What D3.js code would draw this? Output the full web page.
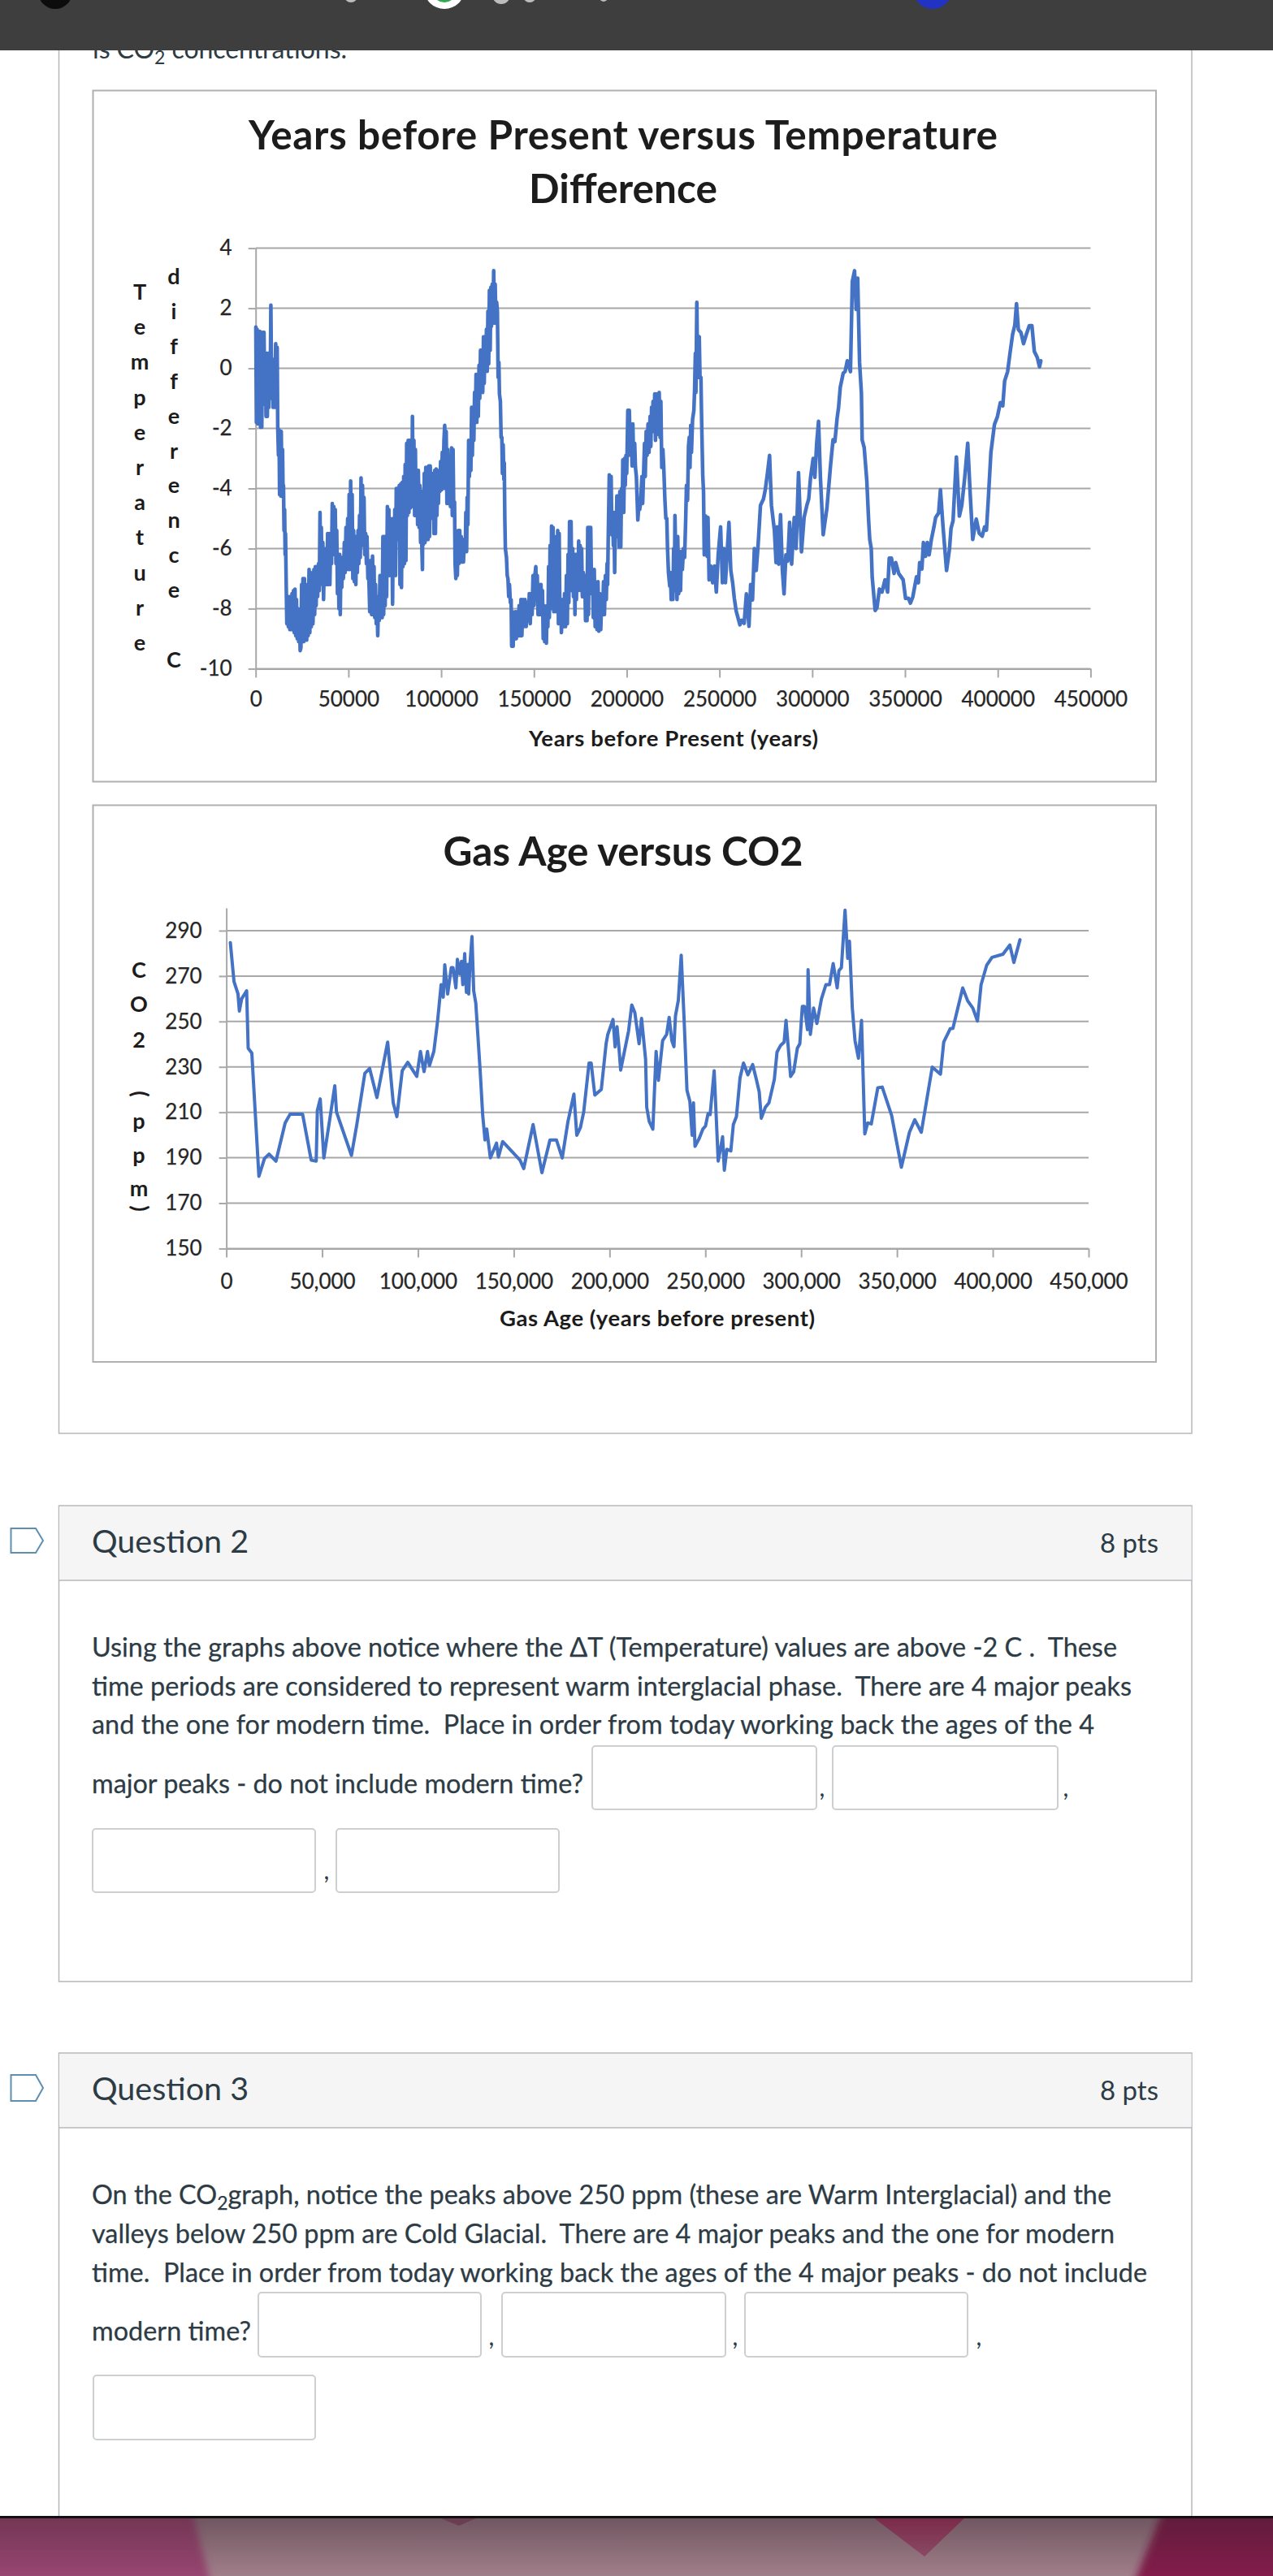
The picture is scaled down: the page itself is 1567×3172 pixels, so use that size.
<!DOCTYPE html>
<html>
<head>
<meta charset="utf-8">
<script src="https://cdn.jsdelivr.net/npm/d3@7"></script>
<style>
html,body{margin:0;padding:0;background:#fff;overflow:hidden}
svg{display:block}
text{font-family:Lato,"Open Sans",sans-serif}
</style>
</head>
<body>
<div id="page"></div>
<script>
// ---------- Chart 1 data: [age in thousand years, temperature difference C] ----------
const tempSegmentA = [[0.1,1.37],[0.4,-1.8],[0.8,1.3],[1.1,-1.85],[1.5,1.2],[1.9,-1.2],[2.2,1.23],[2.6,-1.96],[3.0,1.2],[3.3,-1.96],[3.7,1.2],[4.1,-1.2],[4.5,1.2],[4.9,-1.0],[5.2,0.5],[5.6,-1.6],[6.0,0.5],[6.3,-1.6],[6.7,0.5],[7.1,-1.3],[7.5,0.3],[7.8,-1.0],[8.2,2.1],[8.6,-0.8],[9.0,0.2],[9.4,-1.3],[9.9,0.3],[10.3,-1.3],[10.8,0.82],[11.2,-1.3],[11.6,0.7],[11.9,-1.96],[12.3,-2.9],[12.6,-2.05],[12.9,-4.2],[13.2,-2.1],[13.5,-4.25],[13.8,-2.1],[14.2,-4.25],[14.5,-2.7],[14.8,-4.3],[15.0,-3.9],[15.3,-5.4],[15.6,-4.7],[15.9,-6.2],[16.1,-5.5],[16.4,-6.9],[16.8,-8.5],[17.2,-7.7],[17.6,-8.6],[18,-7.6],[18.4,-8.7],[18.8,-7.6],[19.2,-8.7],[19.6,-7.5],[20,-8.7],[20.4,-7.4],[20.8,-8.8],[21.2,-7.35],[21.6,-8.9],[22,-7.7],[22.4,-9],[22.8,-8],[23.2,-9.1],[23.6,-8.2],[24,-9.4],[24.4,-9.3],[24.8,-7.2],[25.1,-9],[25.5,-7],[25.9,-9.1],[26.3,-7],[26.7,-9.05],[27.1,-7.2],[27.5,-9.05],[27.9,-7.5],[28.3,-8.9],[28.8,-6.7],[29.2,-8.8],[29.6,-6.8],[30,-8.6],[30.5,-7.5],[30.9,-8.5],[31.4,-6.7],[31.8,-8.2],[32.2,-6.6],[32.6,-7.9],[33,-6.6],[33.4,-7.6],[33.9,-6.5],[34.3,-7.4],[34.7,-4.8],[35,-7.2],[35.4,-5.3],[35.8,-7],[36.2,-5.8],[36.6,-7.7],[37,-6.2],[37.4,-7.2],[37.9,-6],[38.3,-7.2],[38.8,-5.5],[39.2,-7.2],[39.6,-5.5],[40,-7.2],[40.5,-5.5],[40.9,-6.5],[41.3,-4.5],[41.7,-6.2],[42.1,-4.6],[42.5,-6.1],[42.9,-4.7],[43.3,-6.5],[43.7,-5.4],[44.1,-7.5],[44.5,-6.2],[44.9,-8],[45.3,-6.2],[45.6,-8.2],[46,-6.3],[46.4,-7.3],[46.9,-6.3],[47.3,-7],[47.8,-5.8],[48.2,-6.8],[48.7,-5.3],[49.1,-6.6],[49.6,-5],[50,-6.7],[50.4,-4.2],[50.8,-6.7],[51.2,-3.75],[51.6,-6.7],[52,-4.2],[52.4,-7],[52.8,-5.4],[53.2,-7.1],[53.6,-5.6],[54,-7.2],[54.4,-5.6],[54.8,-6.8],[55.2,-5.4],[55.6,-6.5],[56,-4.9],[56.4,-6.3],[56.8,-3.65],[57.2,-5.9],[57.6,-3.9],[58,-5.7],[58.4,-4.3],[58.8,-6.2],[59.3,-5.5],[59.7,-6.5],[60,-5.6],[60.5,-7],[61,-6.9],[61.5,-8.1],[62,-6.4],[62.5,-8.2]];
const tempSegmentB = [[63,-6.25],[63.4,-8],[63.8,-6.6],[64.2,-8.3],[64.6,-7.2],[65,-8.5],[65.4,-7.6],[65.8,-8.9],[66.2,-7.8],[66.6,-8.4],[67,-6.9],[67.4,-8.3],[67.8,-6.9],[68.2,-8.3],[68.6,-5.6],[69,-8.2],[69.4,-5.6],[69.8,-7.9],[70.2,-5.6],[70.6,-7.6],[71,-4.6],[71.4,-6.9],[71.8,-4.7],[72.2,-6.9],[72.6,-5],[73,-6.9],[73.4,-5.3],[73.8,-7.85],[74.2,-5],[74.6,-6.9],[75,-4.7],[75.4,-6.9],[75.8,-4],[76.2,-5.7],[76.6,-4],[77,-5.7],[77.4,-3.9],[77.8,-7.2],[78.2,-3.85],[78.6,-7.3],[79,-3.8],[79.4,-6.6],[79.8,-3.6],[80.2,-6.5],[80.6,-3.2],[81,-6.4],[81.4,-2.5],[81.8,-4.9],[82.2,-2.4],[82.6,-4.8],[83,-2.4],[83.4,-4.65],[83.8,-2.6],[84.2,-4.6],[84.5,-1.6],[84.9,-4.2],[85.3,-2.4],[85.7,-4.9],[86.1,-2.7],[86.5,-4.9],[86.9,-3.4],[87.3,-5.2],[87.7,-3.4],[88.1,-5.3],[88.5,-3.9],[88.9,-5.8],[89.3,-4.1],[89.6,-6],[89.9,-6.7],[90.1,-4.1],[90.5,-5.85],[90.9,-3.5],[91.3,-5.8],[91.7,-3.3],[92.1,-5.6],[92.5,-3.3],[92.9,-5.7],[93.3,-3.25],[93.7,-5.6],[94.1,-3.25],[94.5,-5],[94.9,-3.5],[95.3,-5],[95.7,-3.5],[96.1,-5.5],[96.5,-3.4],[96.9,-5.5],[97.3,-3.35],[97.7,-4.9],[98.1,-3.6],[98.5,-4.5],[98.9,-3.4],[99.3,-4.1],[99.7,-3.1],[100.1,-4.05],[100.6,-2.8],[101,-4],[101.5,-2.4],[101.9,-1.9],[102.3,-4],[102.7,-2.1],[103.1,-4.5],[103.5,-2.7],[104,-4.5],[104.5,-3.6],[105,-4.6],[105.6,-2.65],[106,-4.9],[106.4,-2.7],[106.8,-4.9],[107.2,-4.45],[107.5,-6.5],[107.9,-7],[108.3,-6.2],[108.7,-6.9],[109.2,-5.4],[109.6,-6.5],[110,-5.4],[110.4,-6.4],[110.8,-5.6],[111.2,-6.45],[111.6,-5.7],[112,-6.45],[112.5,-5.7],[113,-6.1],[113.3,-4.8],[113.7,-6.1],[114,-4.3],[114.4,-5.2],[114.8,-2.4],[115.2,-3.6],[115.6,-2.5],[116,-3.4],[116.4,-1.3],[116.8,-2.9],[117.2,-1.4],[117.6,-2.4],[118,-0.8],[118.4,-1.8],[118.8,-0.2],[119.2,-1.8],[119.6,-0.2],[120,-1.6],[120.4,0.1],[120.8,-1],[121.2,0.6],[121.6,-0.8],[122,0.6],[122.4,-0.8],[122.8,1.05],[123.2,-0.5],[123.6,1.05],[124,-0.1],[124.4,1.3]];
const tempSegmentC = [[124.8,-0.1],[125.2,1.9],[125.6,0.15],[126,2.6],[126.4,0.6],[126.8,2.7],[127.1,1.4],[127.5,2.8],[127.9,1.5],[128.3,3.25],[128.7,1.5],[129.1,2.8],[129.5,1.5],[129.9,2.2],[130.3,1.9],[130.7,-0.3],[131.1,0.2],[131.4,-0.85],[131.9,-1.1],[132.3,-2.3],[132.7,-2.3],[133,-3.5],[133.4,-2.55],[133.8,-3.7],[134,-3.15],[134.3,-5],[134.6,-6],[135.2,-6.3],[135.6,-6.9],[136,-7],[136.4,-7.6],[136.8,-7.2],[137.3,-7.8],[137.7,-7.7],[138,-9.25],[138.4,-8.1],[138.8,-9.25],[139.2,-8.2],[139.6,-9],[140,-8.1],[140.5,-9],[141,-8.1],[141.5,-8.9],[142,-7.9],[142.5,-8.9],[143,-7.7],[143.5,-8.9],[144,-7.7],[144.6,-8.6],[145.2,-7.7],[145.8,-8.6],[146.4,-7.8],[147,-8.4],[147.5,-7.5],[148,-8.5],[148.5,-7.5],[149,-8.2],[149.5,-6.9],[150,-7.9],[150.5,-6.9],[151,-6.6],[151.4,-7.7],[151.8,-6.9],[152.2,-8.2],[152.7,-7.2],[153.2,-8.2],[153.8,-7.2],[154.2,-8.2],[154.6,-7.4],[155,-9],[155.4,-7.9],[155.8,-9.1],[156.3,-8],[156.7,-9.15],[157.1,-7.9],[157.5,-8.6],[157.9,-6.6],[158.3,-8.3],[158.7,-5.9],[159.1,-8],[159.5,-5.25],[159.9,-8],[160.3,-5.3],[160.7,-8.1],[161.1,-7.6],[161.5,-8.1],[162,-5.6],[162.4,-8.1],[162.8,-5.4],[163.2,-8.5],[163.6,-5.5],[164,-8.4],[164.4,-7.8],[164.8,-8.8],[165.4,-7.7],[166,-8.6],[166.5,-7.5],[167,-8.6],[167.5,-6.9],[168,-8.5],[168.4,-6.2],[168.8,-7.8],[169.2,-5.1],[169.6,-7.25],[170,-5.1],[170.4,-7.4],[170.9,-6],[171.3,-7.6],[171.7,-6.2],[172.1,-8.2],[172.5,-6.2],[172.9,-7.7],[173.3,-6.2],[173.7,-7.4],[174.1,-5.75],[174.5,-7.3],[174.9,-5.9],[175.3,-7.4],[175.7,-6],[176.1,-7.6],[176.6,-6.8],[177,-7.6],[177.4,-6.9],[177.8,-8.4],[178.2,-7.2],[178.6,-8.4],[179,-5.3],[179.4,-8.2],[179.8,-5.3],[180.2,-7.5],[180.6,-5.3],[181,-7.2],[181.5,-6.7],[182,-8.3],[182.5,-6.7],[183,-8.6],[183.5,-7.3],[184,-8.7],[184.5,-7.1],[185,-8.75]];
const tempSegmentD = [[185.5,-7.5],[186,-8.7],[186.5,-7.7],[187,-8.2],[187.5,-7.1],[188,-8.2],[188.5,-6.9],[189,-7.7],[189.4,-6.5],[189.7,-7.2],[190,-5.8],[190.6,-3.55],[191,-5.5],[191.6,-3.6],[192,-5.55],[192.4,-4.8],[192.8,-5.9],[193.1,-4.8],[193.5,-6.8],[193.9,-4.9],[194.3,-5.6],[194.7,-4.25],[195.1,-5.6],[195.5,-4.25],[195.9,-5.95],[196.3,-4.1],[196.8,-5.95],[197.2,-4],[197.6,-4.8],[197.9,-3.05],[198.4,-4.8],[198.8,-3],[199.2,-3.9],[199.6,-2.9],[200,-3.5],[200.6,-1.4],[201,-2.9],[201.4,-1.4],[201.9,-2.7],[202.4,-2],[202.9,-3.25],[203.3,-1.85],[203.8,-3.25],[204.3,-2.5],[204.7,-3.3],[205.2,-3.6],[206,-5.05],[206.6,-4.5],[207,-4.7],[207.4,-4.5],[208.2,-3.6],[208.6,-4.5],[209.2,-3.3],[209.6,-2.5],[210,-3.6],[210.5,-2.1],[211,-2.9],[211.5,-1.85],[212,-2.8],[212.6,-1.6],[213,-2.6],[213.4,-1.3],[213.8,-2.1],[214.2,-1.1],[214.7,-2.1],[215.1,-0.85],[215.5,-2.4],[215.9,-0.85],[216.3,-2.2],[216.7,-0.9],[217.2,-2],[217.5,-0.8],[218,-2.3],[218.4,-1.1],[218.9,-3.3],[219.5,-2.7],[220,-3.35],[220.6,-4.4],[221.1,-5],[221.6,-5],[222,-6],[222.5,-6.8],[223.2,-7.25],[223.5,-6.8],[224,-7.7],[224.4,-7],[224.9,-7.7],[225.3,-6],[225.7,-7.4],[226,-4.9],[226.5,-6.5],[226.9,-7],[227.1,-7.7],[227.5,-5.6],[228,-7.5],[228.6,-6.1],[229,-7.4],[229.5,-6.1],[230,-6.7],[230.6,-6],[231.2,-6.3],[231.8,-5],[232.2,-3.9],[232.8,-4.4],[233.3,-2.6],[233.7,-2.3],[234.1,-3.3],[234.5,-1.9],[234.9,-2.8],[235.5,-1.7],[236.2,-1.4],[236.6,-0.7],[237,0.5],[237.3,-0.8],[237.8,2.2],[238.2,-0.3],[238.7,1],[239.1,1.05],[239.5,-0.3],[240,-0.3],[240.4,-1.8],[241,-3.6],[241.4,-4.1],[241.8,-6.21]];
const tempSegmentE = [[242.6,-4.92],[243.4,-6.26],[243.8,-4.97],[244.4,-7.04],[245.3,-6.58],[246.3,-7.14],[247.3,-6.58],[248.3,-7.45],[249.3,-6.21],[250.6,-5.28],[251.6,-7.14],[252.4,-6],[253.2,-7.14],[255.1,-5.13],[256.1,-6.73],[257.1,-7.14],[258,-7.66],[259,-8.08],[261,-8.54],[262,-8.39],[263.3,-8.49],[264.5,-7.51],[265.9,-8.59],[266.8,-7.2],[267.8,-7.71],[268.8,-6],[269.8,-6.73],[270.8,-5.9],[271.3,-5.39],[272.1,-4.56],[273.7,-4.35],[274.7,-4.04],[276,-3.42],[277,-2.9],[278,-4.56],[279.6,-5.39],[280.5,-6.47],[281.1,-5.28],[281.9,-6.52],[282.9,-4.87],[283.9,-6.73],[284.8,-7.51],[285.8,-6.21],[286.8,-6.42],[287.8,-5.13],[288.9,-6.52],[290.3,-4.97],[291.3,-6],[292.6,-3.47],[294.2,-6.11],[295.6,-4.97],[297.1,-4.56],[298.1,-4.35],[299.1,-3.63],[300.5,-3],[301.4,-3.63],[302.4,-2.49],[303.4,-1.76],[304.4,-3.63],[305.9,-5.54],[307.9,-4.66],[309.9,-3.21],[311.2,-2.38],[312.2,-2.44],[313.4,-1.66],[314.2,-1.3],[315.1,-0.63],[316.7,-0.16],[317.7,-0.11],[318.9,0.25],[320.6,-0.11],[321.6,2.89],[322.8,3.25],[323.7,1.96],[324.5,3],[325.5,0.2],[326.5,-0.83],[326.9,-2.38],[328,-2.64],[329.4,-3.73],[330.4,-5.07],[331,-5.7],[331.8,-6],[332.3,-6.94],[333.9,-8.06],[334.9,-7.97],[336.2,-7.35],[337.6,-7.45],[339.2,-7.04],[340.6,-7.45],[341.5,-6.32],[342.7,-6.32],[344.1,-6.83],[345,-6.47],[346.6,-6.83],[349,-7.04],[350.3,-7.66],[351.9,-7.66],[352.9,-7.82],[354.2,-7.61],[356.2,-6.94],[357.2,-7.14],[357.9,-6.47],[359.1,-6.68],[359.9,-5.8],[361.1,-6.26],[362,-5.8],[363,-6.21],[364.2,-5.7],[365.6,-5.28],[366.5,-4.97],[368.1,-4.82],[369.1,-4.04],[370.5,-5.28],[372.4,-6.73],[374,-6],[374.8,-5.33],[375.9,-5.07],[377.7,-2.95],[379.3,-4.92],[380.6,-4.56],[382.2,-3.63],[383.8,-2.49],[385.1,-4.14],[386.5,-5.7],[388.4,-5.02],[390,-5.49],[391.6,-5.59],[392.9,-5.28],[393.9,-5.39],[394.9,-4.35],[396.3,-2.8],[398.2,-1.87],[399.8,-1.61],[401.4,-1.14],[402.7,-1.25],[403.7,-0.42],[405.3,-0.11],[406.6,0.51],[408,1.13],[409.2,1.44],[410.1,2.15],[411.1,1.29],[412.5,1.19],[413.9,0.82],[415.4,1.13],[417,1.42],[418.4,1.42],[419.7,0.56],[421.3,0.36],[422.5,0.05],[423.2,0.25]];

// ---------- Chart 2 data: [gas age in thousand years, CO2 ppm] ----------
const co2SegmentA = [[2.1,284.7],[4,267.6],[6.1,262.1],[6.8,254.6],[8,260],[10.6,263.5],[11.4,238.2],[13.3,236.1],[17,181.8],[19.9,189.6],[22.3,191.6],[25.9,188.5],[30.7,205.3],[33.3,209.2],[39.8,209.2],[44.3,188.9],[46.9,188.5],[47.5,210.8],[49,215.9],[50.9,189.9],[54.3,208.7],[56.6,221.7],[57.5,210.1],[65.3,191],[68.1,204.6],[72.3,227.2],[74.8,229.3],[78.6,216.5],[84.2,240.9],[87.1,214.2],[89,208.1],[91.8,228.3],[94.7,232],[99.4,225.8],[101.3,236.8],[103.2,227.9],[105,236.8],[106,230.6],[108.3,236.8],[110.2,249.8],[112.1,266.2],[113.2,260.7],[114,275],[115.5,262.1],[117.4,273.7],[118.3,273.7],[119.8,264.8],[120.6,277.4],[121.7,271],[122.7,276.5],[123.4,266.2],[124.4,279.9],[125.3,262.8],[126.1,275.1],[126.5,262.1],[127.2,275.8],[128.2,287.4],[129.1,263.5],[130.2,258],[132.5,227.9],[133.8,208.7],[135,197.8],[135.9,202.6],[137.8,189.9]];
const co2SegmentB = [[141,196.4],[142,190.3],[144.2,197.1],[153.3,188.9],[155.2,185.2],[160.1,204.6],[164.7,183.4],[168.9,197.8],[172.3,197.8],[175.3,189.9],[178.3,206],[181.4,218],[182.9,199.9],[184.8,203.3],[186.5,210.1],[189.3,231.7],[190.4,231.7],[192.3,217.6],[195.7,220.1],[198.2,240.2],[199.1,244.3],[201.8,250.9],[202.9,238.8],[203.9,247.7],[204.8,239.5],[205.8,228.6],[209.9,245.7],[211.6,257.3],[213.2,253.9],[215.4,240.2],[216.7,251.4],[218.8,233.4],[219.4,212.2],[220.7,206],[222.6,202.6],[224.3,236.8],[225.5,224.1],[227.7,241.6],[229.8,244.3],[231.1,251.8],[232.5,241.6],[233.6,238.9],[234.4,252.5],[235.9,259.4],[237.4,279.2],[238.9,251.1],[240.4,219.7],[241.9,214.9],[243.1,199.9],[243.8,214.2],[244.6,195],[246.8,198.5],[248.7,202.6],[250.1,204],[251.4,209.4],[252.5,209],[254.6,228.3],[256.7,188.5],[259,199.2],[259.9,184.5],[261.2,193.7],[263.3,193],[264.6,204.6],[266.2,208.1],[268.1,225.2],[269.9,231.7]];
const co2SegmentC = [[272.2,226.5],[274.7,231],[276.6,224.5],[278.1,219],[279.2,207.4],[281.3,212.2],[283.2,214.2],[286,224.5],[287.4,236.5],[289.3,239.5],[291.1,240.9],[292.1,250.5],[294.5,225.8],[296.1,227.9],[298,238.2],[299.3,240.2],[300.6,256.6],[301.7,256.6],[303.3,246.4],[303.6,272.8],[304.8,244.3],[306.5,255.9],[308.2,249.1],[310.6,260],[312.9,266.2],[314.8,266.2],[316.7,275.5],[318.8,264.8],[319.7,272.4],[321,273.7],[322.9,299],[324.3,277.8],[325.2,285.3],[326.7,255.9],[328.1,241.6],[329.9,233.8],[331.5,250.5],[333.2,200.5],[334.7,205.3],[336.6,204.9],[340,220.8],[342.3,221.1],[347.2,208.7],[352.3,185.8],[356.5,201.2],[359.3,206.7],[362.7,201.2],[368.4,229.9],[372.7,226.8],[374.4,240.9],[377.8,246.8],[379.2,247],[384.3,264.8],[386.9,259.1],[389.6,255.9],[392,250.2],[393.9,266.2],[396.8,274.7],[399.6,278.2],[405.3,279.6],[408.9,283.7],[411,276],[414.2,286]];

// ---------- Axis values and text ----------
const tempYTicks = [-10,-8,-6,-4,-2,0,2,4];
const co2YTicks = [150,170,190,210,230,250,270,290];
const xTicks = [0,50000,100000,150000,200000,250000,300000,350000,400000,450000];
const tempTitleLines = ["Years before Present versus Temperature","Difference"];
const co2Title = "Gas Age versus CO2";
const tempXTitle = "Years before Present (years)";
const co2XTitle = "Gas Age (years before present)";
const tempLabelColumnA = "Temperature".split("");
const tempLabelColumnB = "difference C".split("");
const co2LabelLetters = ["C","O","2",")","p","p","m","("];
const q2Lines = ["Using the graphs above notice where the ΔT (Temperature) values are above -2 C .  These","time periods are considered to represent warm interglacial phase.  There are 4 major peaks","and the one for modern time.  Place in order from today working back the ages of the 4","major peaks - do not include modern time?"];
const q3Lines = ["valleys below 250 ppm are Cold Glacial.  There are 4 major peaks and the one for modern","time.  Place in order from today working back the ages of the 4 major peaks - do not include","modern time?"];

const tempData = [].concat(tempSegmentA,tempSegmentB,tempSegmentC,tempSegmentD,tempSegmentE);
const co2Data = [].concat(co2SegmentA,co2SegmentB,co2SegmentC);

const W=1567,H=3172;
const INK="#2d3b45", AXIS="#a8a8a8", LINE="#4472c4", BORDER="#b5b9bc";
const svg=d3.select("#page").append("svg").attr("width",W).attr("height",H).attr("viewBox",`0 0 ${W} ${H}`);
const defs=svg.append("defs");

svg.append("rect").attr("x",0).attr("y",0).attr("width",W).attr("height",H).attr("fill","#fff");
svg.append("path").attr("d","M72.5 60V1765H1467V60").attr("fill","none").attr("stroke",BORDER).attr("stroke-width",1.5);

const intro=svg.append("text").attr("x",114).attr("y",72).attr("font-size",32).attr("fill",INK).attr("textLength",313);
intro.append("tspan").text("is CO");
intro.append("tspan").attr("dy",7).attr("font-size",23).text("2");
intro.append("tspan").attr("dy",-7).text(" concentrations.");

svg.append("rect").attr("x",0).attr("y",0).attr("width",W).attr("height",62).attr("fill","#3e3e3e");
svg.append("circle").attr("cx",68).attr("cy",-10).attr("r",21).attr("fill","#0c0c0c");
svg.append("circle").attr("cx",547).attr("cy",-14).attr("r",25).attr("fill","#fff");
svg.append("circle").attr("cx",547).attr("cy",-12).attr("r",15).attr("fill","#2fa84f");
svg.append("circle").attr("cx",1148).attr("cy",-13).attr("r",24).attr("fill","#2233c4");
svg.append("circle").attr("cx",617).attr("cy",-6).attr("r",11).attr("fill","#bdbdbd");
svg.append("circle").attr("cx",652).attr("cy",-5).attr("r",8).attr("fill","#bdbdbd");
svg.append("circle").attr("cx",432).attr("cy",-5).attr("r",8).attr("fill","#bdbdbd");
svg.append("circle").attr("cx",743).attr("cy",-3).attr("r",5).attr("fill","#bdbdbd");

function frame(y0,y1){
  svg.append("rect").attr("x",114.5).attr("y",y0).attr("width",1308.5).attr("height",y1-y0)
    .attr("fill","#fff").attr("stroke","#b0b0b0").attr("stroke-width",2);
}
frame(111.5,962.5);
frame(991.5,1677);

function drawChart(o){
  const x=d3.scaleLinear().domain([0,450000]).range(o.xr);
  const y=d3.scaleLinear().domain(o.yd).range(o.yr);
  const g=svg.append("g");
  g.selectAll("line.grid").data(o.yt).join("line").attr("class","grid")
    .attr("x1",o.xr[0]).attr("x2",o.xr[1]).attr("y1",d=>y(d)).attr("y2",d=>y(d))
    .attr("stroke",AXIS).attr("stroke-width",2);
  const xa=g.append("g").attr("transform",`translate(0,${o.yr[0]})`)
    .call(d3.axisBottom(x).tickValues(xTicks).tickSize(o.xTick).tickSizeOuter(0).tickPadding(o.xPad).tickFormat(o.xf));
  const ya=g.append("g").attr("transform",`translate(${o.xr[0]},0)`)
    .call(d3.axisLeft(y).tickValues(o.yt).tickSize(9).tickSizeOuter(0).tickPadding(o.yPad).tickFormat(d=>String(d)));
  [xa,ya].forEach(a=>{
    a.selectAll("path.domain,line").attr("stroke",AXIS).attr("stroke-width",2);
    a.selectAll("text").attr("font-size",26).attr("fill","#262626").attr("font-family","Lato").attr("stroke","#262626").attr("stroke-width",0.25);
  });
  const line=d3.line().x(d=>x(d[0]*1000)).y(d=>y(d[1]));
  g.append("path").datum(o.data).attr("d",line).attr("fill","none").attr("stroke",LINE)
    .attr("stroke-width",o.lw).attr("stroke-linejoin","round").attr("stroke-linecap","round");
}
drawChart({data:tempData,lw:4.5,xr:[314.7,1342.4],yd:[-10,4],yr:[823.4,305.6],yt:tempYTicks,xTick:11,xPad:17,yPad:20,xf:d=>String(d)});
drawChart({data:co2Data,lw:4,xr:[278.6,1340],yd:[150,300],yr:[1537.4,1118],yt:co2YTicks,xTick:11,xPad:20,yPad:21,xf:d3.format(",")});

function bold(t,cx,y,fs,len){
  const n=svg.append("text").attr("x",cx).attr("y",y).attr("text-anchor","middle")
    .attr("font-size",fs).attr("font-weight",700).attr("fill","#1c1c1c").text(t);
  if(len) n.attr("textLength",len).attr("lengthAdjust","spacing");
}
bold(tempTitleLines[0],767,184,49.5,922);
bold(tempTitleLines[1],767,250,49.5,232);
bold(co2Title,767,1066,49.5,443);
bold(tempXTitle,829,919,27.5,356);
bold(co2XTitle,809,1633,27.5,388);

function stacked(chars,cx,y0,step){
  chars.forEach((c,i)=>{ if(c===" ")return;
    svg.append("text").attr("x",cx).attr("y",y0+i*step).attr("text-anchor","middle")
      .attr("font-size",27).attr("font-weight",700).attr("fill","#1c1c1c").text(c);
  });
}
stacked(tempLabelColumnA,172,369,43.2);
stacked(tempLabelColumnB,214,350,42.9);
const co2LabelY=[1204,1246,1290,1347,1390,1432,1473,1488];
co2LabelLetters.forEach((c,i)=>{
  const n=svg.append("text").attr("text-anchor","middle").attr("font-size",27).attr("font-weight",700).attr("fill","#1c1c1c").text(c);
  if(c==="("||c===")") n.attr("transform",`translate(180,${co2LabelY[i]}) rotate(-90)`);
  else n.attr("x",171).attr("y",co2LabelY[i]);
});

function card(y0,y1,yh,name,ny){
  svg.append("rect").attr("x",72.5).attr("y",y0).attr("width",1394.5).attr("height",y1-y0).attr("fill","#fff").attr("stroke",BORDER).attr("stroke-width",1.5);
  svg.append("rect").attr("x",73).attr("y",y0+1).attr("width",1393.5).attr("height",yh-y0-1).attr("fill","#f5f5f5");
  svg.append("line").attr("x1",72.5).attr("x2",1467).attr("y1",yh).attr("y2",yh).attr("stroke",BORDER).attr("stroke-width",1.5);
  svg.append("text").attr("x",113).attr("y",ny).attr("font-size",39.5).attr("fill",INK).text(name);
  svg.append("text").attr("x",1426).attr("y",ny).attr("text-anchor","end").attr("font-size",33).attr("fill",INK).text("8 pts");
}
card(1854,2440,1946,"Question 2",1912);
card(2528,3110,2620,"Question 3",2586);
function flag(y0,y1){
  svg.append("path").attr("d",`M13.5 ${y0}H44L53 ${(y0+y1)/2}L44 ${y1}H13.5Z`).attr("fill","#fff").attr("stroke","#5f8fb0").attr("stroke-width",2);
}
flag(1882,1912); flag(2555,2587);

function body(t,y,len){
  const n=svg.append("text").attr("x",113).attr("y",y).attr("font-size",32.4).attr("fill",INK).attr("stroke",INK).attr("stroke-width",0.25).attr("xml:space","preserve").style("white-space","pre").text(t);
  if(len) n.attr("textLength",len).attr("lengthAdjust","spacing");
  return n;
}
body(q2Lines[0],2040,1262); body(q2Lines[1],2088,1280); body(q2Lines[2],2135,1234); body(q2Lines[3],2208,605);
const q3first=svg.append("text").attr("x",113).attr("y",2714).attr("font-size",32.4).attr("fill",INK).attr("stroke",INK).attr("stroke-width",0.25).attr("textLength",1255);
q3first.append("tspan").text("On the CO");
q3first.append("tspan").attr("dy",7).attr("font-size",23).text("2");
q3first.append("tspan").attr("dy",-7).text("graph, notice the peaks above 250 ppm (these are Warm Interglacial) and the");
body(q3Lines[0],2762,1259); body(q3Lines[1],2810,1299); body(q3Lines[2],2882,196);

function box(x0,x1,y0,y1){
  svg.append("rect").attr("x",x0).attr("y",y0).attr("width",x1-x0).attr("height",y1-y0).attr("rx",4)
    .attr("fill","#fff").attr("stroke","#ccd0d3").attr("stroke-width",2);
}
function comma(x,y){svg.append("text").attr("x",x).attr("y",y).attr("text-anchor","middle").attr("font-size",30).attr("fill",INK).text(",");}
box(729,1005,2150,2228); comma(1012,2212);
box(1025,1302,2150,2228); comma(1312,2212);
box(114,388,2252,2330); comma(402,2314);
box(414,688,2252,2330);
box(318,592,2823,2902); comma(605,2888);
box(618,893,2823,2902); comma(905,2888);
box(917,1191,2823,2902); comma(1205,2888);
box(115,388,2925,3004);

// bottom band
function vGrad(id,top,bottom){
  const g=defs.append("linearGradient").attr("id",id).attr("x1",0).attr("x2",0).attr("y1",0).attr("y2",1);
  g.append("stop").attr("offset",0).attr("stop-color",top);
  g.append("stop").attr("offset",1).attr("stop-color",bottom);
}
vGrad("bandMid","#6f5660","#a17f8a");
vGrad("bandSide","#6e3350","#a04a78");
vGrad("bandRight","#5c1a38","#8c2050");
vGrad("bandNotch","#7a2a48","#8a4a64");
const blur=defs.append("filter").attr("id","soft").attr("x","-10%").attr("width","120%");
blur.append("feGaussianBlur").attr("stdDeviation",5);
defs.append("clipPath").attr("id","bandClip").append("rect").attr("x",0).attr("y",3100).attr("width",W).attr("height",72);
const bandClip=svg.append("g").attr("clip-path","url(#bandClip)");
bandClip.append("rect").attr("x",0).attr("y",3100).attr("width",W).attr("height",72).attr("fill","url(#bandMid)");
const band=bandClip.append("g").attr("filter","url(#soft)");
band.append("path").attr("d","M-20 3090H236L262 3190H-20Z").attr("fill","url(#bandSide)");
band.append("path").attr("d","M1432 3090H1590V3190H1392Z").attr("fill","url(#bandRight)");
bandClip.append("path").attr("d","M1075 3100H1188L1138 3148Z").attr("fill","url(#bandNotch)");
bandClip.append("path").attr("d","M540 3100H588L565 3110Z").attr("fill","#6b3d50");
svg.append("rect").attr("x",0).attr("y",3098).attr("width",W).attr("height",3).attr("fill","#111");
</script>
</body>
</html>
